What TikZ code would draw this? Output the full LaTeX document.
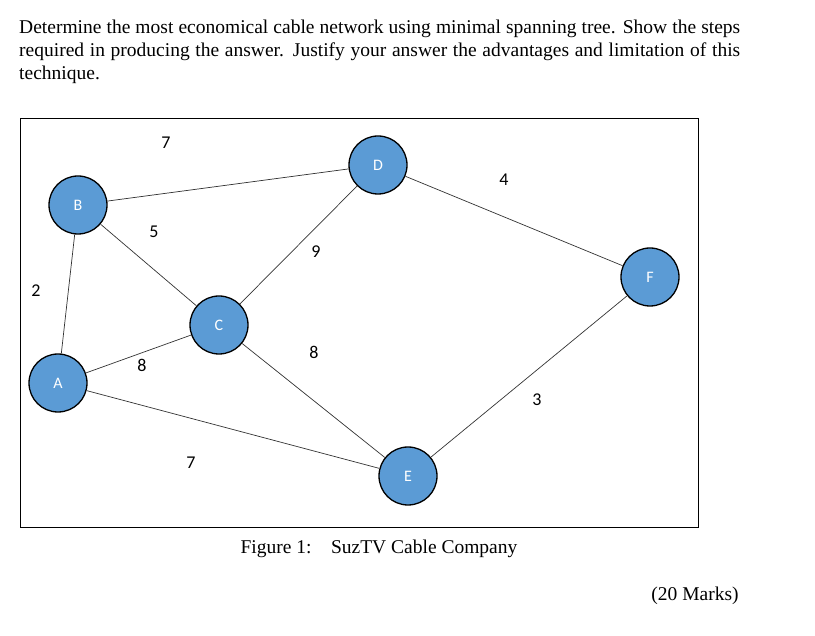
\documentclass[tikz,border=0pt]{standalone}
\usepackage{fontspec}
\setmainfont{Liberation Serif}
\newfontfamily\carfont{Carlito}
\begin{document}
\begin{tikzpicture}[x=1pt,y=-1pt,
  vert/.style={circle,draw=black,line width=1.3pt,fill={rgb,255:red,91;green,155;blue,213},minimum size=58pt,inner sep=0,font=\carfont\fontsize{16}{16}\selectfont,text=white},
  edge/.style={draw=black!80,line width=0.7pt},
  wt/.style={font=\carfont\fontsize{18}{18}\selectfont},
  para/.style={font=\fontsize{19.5}{23}\selectfont,anchor=north west,align=justify,text width=721pt,inner sep=0}]
\useasboundingbox (0,0) rectangle (815,636);
\node[para] (t) at (19,20) {Determine the most economical cable network using minimal spanning tree. Show the steps required in producing the answer. Justify your answer the advantages and limitation of this technique.};
\draw[line width=0.8pt] (20,118) rectangle (698,527);
\node[vert] (B) at (78,205) {B};
\node[vert] (D) at (378,165) {D};
\node[vert] (F) at (650,277) {F};
\node[vert] (C) at (219,325) {C};
\node[vert] (A) at (58,383) {A};
\node[vert] (E) at (408,476) {E};
\path[edge] (B)--(D) (D)--(F) (B)--(C) (C)--(D) (B)--(A) (A)--(C) (C)--(E) (A)--(E) (E)--(F);
\node[wt] (w1) at (166,143) {7};
\node[wt] (w2) at (504,180) {4};
\node[wt] (w3) at (154,232) {5};
\node[wt] (w4) at (316,252) {9};
\node[wt] (w5) at (36,291) {2};
\node[wt] (w6) at (142,365) {8};
\node[wt] (w7) at (314,352) {8};
\node[wt] (w8) at (537,400) {3};
\node[wt] (w9) at (191,463) {7};
\node[font=\fontsize{19.5}{22}\selectfont] (cap) at (379,549) {Figure 1:\quad SuzTV Cable Company};
\node[font=\fontsize{19.5}{22}\selectfont] (m) at (695,596) {(20 Marks)};
\end{tikzpicture}
\end{document}
